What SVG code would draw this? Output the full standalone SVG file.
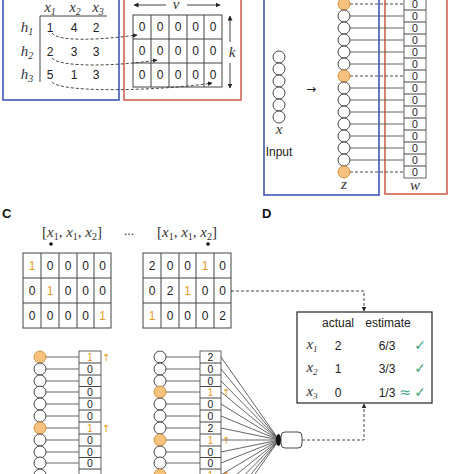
<svg xmlns="http://www.w3.org/2000/svg" width="474" height="474" viewBox="0 0 474 474">
<defs>
<style>
.num{font-family:"Liberation Sans",Arial,sans-serif;font-size:12px;fill:#222;text-anchor:middle}
.cn{font-family:"Liberation Sans",Arial,sans-serif;font-size:10.5px;fill:#222;text-anchor:middle}
.org{fill:#e89a22}
.math{font-family:"Liberation Serif","Times New Roman",serif;font-style:italic;font-size:15px;fill:#333;text-anchor:middle}
.rm{font-family:"Liberation Serif","Times New Roman",serif;font-size:15px;fill:#333}
.lbl{font-family:"Liberation Sans",Arial,sans-serif;font-weight:bold;font-size:13px;fill:#111}
.grid{fill:#fff;stroke:#444;stroke-width:1}
.gl{stroke:#444;stroke-width:1}
.cell{fill:#fff;stroke:#555;stroke-width:0.9}
.node{fill:#fff;stroke:#333;stroke-width:0.9}
.on{fill:#f7c27c;stroke:#c88a3a;stroke-width:0.9}
.wire{stroke:#555;stroke-width:0.9;fill:none}
.dash{stroke:#333;stroke-width:0.9;fill:none;stroke-dasharray:3,2}
.blue{fill:none;stroke:#3f58b5;stroke-width:1.6}
.red{fill:none;stroke:#d4634f;stroke-width:1.6}
.chk{font-family:"DejaVu Sans",sans-serif;font-size:14px;fill:#3fa385;text-anchor:middle}
.up{font-family:"DejaVu Sans",sans-serif;font-size:10px;fill:#e89a22;text-anchor:middle}
</style>
<marker id="ah" viewBox="0 0 10 10" refX="9" refY="5" markerWidth="5" markerHeight="5" orient="auto-start-reverse"><path d="M0,0 L10,5 L0,10 z" fill="#222"/></marker>
</defs>

<!-- Panel A -->
<g id="panelA-box">
<rect class="blue" x="3" y="-10" width="116" height="110"/>
<rect class="red" x="124" y="-10" width="117" height="110"/>
</g>
<g id="tableA">
<text class="math" x="50" y="12">x<tspan font-size="10" dy="3">1</tspan></text>
<text class="math" x="75" y="12">x<tspan font-size="10" dy="3">2</tspan></text>
<text class="math" x="98" y="12">x<tspan font-size="10" dy="3">3</tspan></text>
<text class="math" x="27" y="32">h<tspan font-size="10" dy="3">1</tspan></text>
<text class="math" x="27" y="56">h<tspan font-size="10" dy="3">2</tspan></text>
<text class="math" x="27" y="79">h<tspan font-size="10" dy="3">3</tspan></text>
<path class="gl" d="M40,82 V16 H107" fill="none"/>
<text class="num" x="50" y="32">1</text><text class="num" x="74" y="32">4</text><text class="num" x="96" y="32">2</text>
<text class="num" x="50" y="56">2</text><text class="num" x="74" y="56">3</text><text class="num" x="96" y="56">3</text>
<text class="num" x="50" y="79">5</text><text class="num" x="74" y="79">1</text><text class="num" x="96" y="79">3</text>
</g>
<g id="gridA">
<rect class="grid" x="133" y="15" width="89" height="72"/>
<path class="gl" d="M133,39 H222 M133,63 H222 M151,15 V87 M169,15 V87 M187,15 V87 M204,15 V87"/>
<text class="num" x="142" y="31">0</text><text class="num" x="160" y="31">0</text><text class="num" x="178" y="31">0</text><text class="num" x="195.5" y="31">0</text><text class="num" x="213" y="31">0</text>
<text class="num" x="142" y="55">0</text><text class="num" x="160" y="55">0</text><text class="num" x="178" y="55">0</text><text class="num" x="195.5" y="55">0</text><text class="num" x="213" y="55">0</text>
<text class="num" x="142" y="79">0</text><text class="num" x="160" y="79">0</text><text class="num" x="178" y="79">0</text><text class="num" x="195.5" y="79">0</text><text class="num" x="213" y="79">0</text>
<text class="math" x="176" y="9">v</text>
<text class="math" x="232" y="57">k</text>
<line class="gl" x1="166" y1="5" x2="134" y2="5" marker-end="url(#ah)"/>
<line class="gl" x1="187" y1="5" x2="220" y2="5" marker-end="url(#ah)"/>
<line class="gl" x1="230" y1="42" x2="230" y2="16" marker-end="url(#ah)"/>
<line class="gl" x1="230" y1="63" x2="230" y2="88" marker-end="url(#ah)"/>
</g>
<g id="connectors-A">
<path class="dash" d="M52,33 C58,42 100,40 137,35" marker-end="url(#ah)"/>
<path class="dash" d="M52,58 C60,68 120,66 157,60" marker-end="url(#ah)"/>
<path class="dash" d="M52,82 C62,94 170,90 212,83" marker-end="url(#ah)"/>
</g>

<!-- Panel B -->
<g id="panelB-box">
<rect class="blue" x="264" y="-10" width="115" height="205"/>
<rect class="red" x="385" y="-10" width="62" height="204"/>
</g>
<g id="input">
<circle class="node" cx="279" cy="57" r="6"/>
<circle class="node" cx="279" cy="69" r="6"/>
<circle class="node" cx="279" cy="81" r="6"/>
<circle class="node" cx="279" cy="93" r="6"/>
<circle class="node" cx="279" cy="105" r="6"/>
<circle class="node" cx="279" cy="117" r="6"/>
<text class="math" x="279" y="134">x</text>
<text class="num" x="279" y="156">Input</text>
<text x="311" y="93" font-family="DejaVu Sans,sans-serif" font-size="12" text-anchor="middle" fill="#222">→</text>
</g>
<g id="connectors-B">
<line class="dash" x1="350" y1="4" x2="404" y2="4"/>
<line class="wire" x1="350" y1="16" x2="404" y2="16"/>
<line class="wire" x1="350" y1="28" x2="404" y2="28"/>
<line class="wire" x1="350" y1="40" x2="404" y2="40"/>
<line class="wire" x1="350" y1="52" x2="404" y2="52"/>
<line class="wire" x1="350" y1="64" x2="404" y2="64"/>
<line class="dash" x1="350" y1="76" x2="404" y2="76"/>
<line class="wire" x1="350" y1="88" x2="404" y2="88"/>
<line class="wire" x1="350" y1="100" x2="404" y2="100"/>
<line class="wire" x1="350" y1="112" x2="404" y2="112"/>
<line class="wire" x1="350" y1="124" x2="404" y2="124"/>
<line class="wire" x1="350" y1="136" x2="404" y2="136"/>
<line class="wire" x1="350" y1="148" x2="404" y2="148"/>
<line class="wire" x1="350" y1="160" x2="404" y2="160"/>
<line class="dash" x1="350" y1="172" x2="404" y2="172"/>
</g>
<g id="z">
<circle class="on" cx="344" cy="4" r="6"/>
<circle class="node" cx="344" cy="16" r="6"/>
<circle class="node" cx="344" cy="28" r="6"/>
<circle class="node" cx="344" cy="40" r="6"/>
<circle class="node" cx="344" cy="52" r="6"/>
<circle class="node" cx="344" cy="64" r="6"/>
<circle class="on" cx="344" cy="76" r="6"/>
<circle class="node" cx="344" cy="88" r="6"/>
<circle class="node" cx="344" cy="100" r="6"/>
<circle class="node" cx="344" cy="112" r="6"/>
<circle class="node" cx="344" cy="124" r="6"/>
<circle class="node" cx="344" cy="136" r="6"/>
<circle class="node" cx="344" cy="148" r="6"/>
<circle class="node" cx="344" cy="160" r="6"/>
<circle class="on" cx="344" cy="172" r="6"/>
<text class="math" x="344" y="189">z</text>
</g>
<g id="w">
<rect class="cell" x="404" y="-2" width="22" height="180"/>
<path class="gl" d="M404,10 H426 M404,22 H426 M404,34 H426 M404,46 H426 M404,58 H426 M404,70 H426 M404,82 H426 M404,94 H426 M404,106 H426 M404,118 H426 M404,130 H426 M404,142 H426 M404,154 H426 M404,166 H426"/>
<text class="cn" x="415" y="8">0</text><text class="cn" x="415" y="20">0</text><text class="cn" x="415" y="32">0</text><text class="cn" x="415" y="44">0</text><text class="cn" x="415" y="56">0</text><text class="cn" x="415" y="68">0</text><text class="cn" x="415" y="80">0</text><text class="cn" x="415" y="92">0</text><text class="cn" x="415" y="104">0</text><text class="cn" x="415" y="116">0</text><text class="cn" x="415" y="128">0</text><text class="cn" x="415" y="140">0</text><text class="cn" x="415" y="152">0</text><text class="cn" x="415" y="164">0</text><text class="cn" x="415" y="176">0</text>
<text class="math" x="415" y="190">w</text>
</g>

<!-- Panel C -->
<text class="lbl" x="2" y="218">C</text>
<text class="lbl" x="262" y="218">D</text>
<g id="seq1">
<text class="rm" x="42" y="237">[<tspan font-style="italic">x</tspan><tspan font-size="10" dy="3">1</tspan><tspan dy="-3">, </tspan><tspan font-style="italic">x</tspan><tspan font-size="10" dy="3">1</tspan><tspan dy="-3">, </tspan><tspan font-style="italic">x</tspan><tspan font-size="10" dy="3">2</tspan><tspan dy="-3">]</tspan></text>
<circle cx="51" cy="244" r="1.8" fill="#111"/>
<text class="num" x="129" y="235">...</text>
<text class="rm" x="157" y="237">[<tspan font-style="italic">x</tspan><tspan font-size="10" dy="3">1</tspan><tspan dy="-3">, </tspan><tspan font-style="italic">x</tspan><tspan font-size="10" dy="3">1</tspan><tspan dy="-3">, </tspan><tspan font-style="italic">x</tspan><tspan font-size="10" dy="3">2</tspan><tspan dy="-3">]</tspan></text>
<circle cx="208" cy="244" r="1.8" fill="#111"/>
</g>
<g id="gridC1">
<rect class="grid" x="23" y="253" width="88" height="75"/>
<path class="gl" d="M23,278 H111 M23,303 H111 M41,253 V328 M59,253 V328 M77,253 V328 M94,253 V328"/>
<text class="num org" x="32" y="270">1</text><text class="num" x="50" y="270">0</text><text class="num" x="68" y="270">0</text><text class="num" x="85.5" y="270">0</text><text class="num" x="102.5" y="270">0</text>
<text class="num" x="32" y="295">0</text><text class="num org" x="50" y="295">1</text><text class="num" x="68" y="295">0</text><text class="num" x="85.5" y="295">0</text><text class="num" x="102.5" y="295">0</text>
<text class="num" x="32" y="320">0</text><text class="num" x="50" y="320">0</text><text class="num" x="68" y="320">0</text><text class="num" x="85.5" y="320">0</text><text class="num org" x="102.5" y="320">1</text>
</g>
<g id="gridC2">
<rect class="grid" x="143" y="253" width="88" height="75"/>
<path class="gl" d="M143,278 H231 M143,303 H231 M161,253 V328 M179,253 V328 M196,253 V328 M214,253 V328"/>
<text class="num" x="152" y="270">2</text><text class="num" x="170" y="270">0</text><text class="num" x="187.5" y="270">0</text><text class="num org" x="205" y="270">1</text><text class="num" x="222.5" y="270">0</text>
<text class="num" x="152" y="295">0</text><text class="num" x="170" y="295">2</text><text class="num org" x="187.5" y="295">1</text><text class="num" x="205" y="295">0</text><text class="num" x="222.5" y="295">0</text>
<text class="num org" x="152" y="320">1</text><text class="num" x="170" y="320">0</text><text class="num" x="187.5" y="320">0</text><text class="num" x="205" y="320">0</text><text class="num" x="222.5" y="320">2</text>
</g>

<!-- bottom column 1 -->
<g id="col1">
<g class="wire">
<line x1="46" y1="357" x2="79" y2="357"/><line x1="46" y1="369" x2="79" y2="369"/><line x1="46" y1="381" x2="79" y2="381"/><line x1="46" y1="392" x2="79" y2="392"/><line x1="46" y1="404" x2="79" y2="404"/><line x1="46" y1="416" x2="79" y2="416"/><line x1="46" y1="428" x2="79" y2="428"/><line x1="46" y1="440" x2="79" y2="440"/><line x1="46" y1="452" x2="79" y2="452"/><line x1="46" y1="463" x2="79" y2="463"/><line x1="46" y1="475" x2="79" y2="475"/>
</g>
<circle class="on" cx="40" cy="357" r="6"/>
<circle class="node" cx="40" cy="369" r="6"/>
<circle class="node" cx="40" cy="381" r="6"/>
<circle class="node" cx="40" cy="392" r="6"/>
<circle class="node" cx="40" cy="404" r="6"/>
<circle class="node" cx="40" cy="416" r="6"/>
<circle class="on" cx="40" cy="428" r="6"/>
<circle class="node" cx="40" cy="440" r="6"/>
<circle class="node" cx="40" cy="452" r="6"/>
<circle class="node" cx="40" cy="463" r="6"/>
<circle class="node" cx="40" cy="475" r="6"/>
<rect class="cell" x="79" y="351" width="22" height="130"/>
<path class="gl" d="M79,363 H101 M79,375 H101 M79,386.5 H101 M79,398 H101 M79,410 H101 M79,422 H101 M79,434 H101 M79,446 H101 M79,457.5 H101 M79,469 H101"/>
<text class="cn org" x="90" y="361">1</text><text class="cn" x="90" y="373">0</text><text class="cn" x="90" y="385">0</text><text class="cn" x="90" y="396">0</text><text class="cn" x="90" y="408">0</text><text class="cn" x="90" y="420">0</text><text class="cn org" x="90" y="432">1</text><text class="cn" x="90" y="444">0</text><text class="cn" x="90" y="456">0</text><text class="cn" x="90" y="467">0</text>
<text class="up" x="106" y="361">↑</text>
<text class="up" x="106" y="432">↑</text>
</g>

<!-- bottom column 2 -->
<g id="col2">
<g class="wire">
<line x1="166" y1="357" x2="200" y2="357"/><line x1="166" y1="369" x2="200" y2="369"/><line x1="166" y1="381" x2="200" y2="381"/><line x1="166" y1="392" x2="200" y2="392"/><line x1="166" y1="404" x2="200" y2="404"/><line x1="166" y1="416" x2="200" y2="416"/><line x1="166" y1="428" x2="200" y2="428"/><line x1="166" y1="440" x2="200" y2="440"/><line x1="166" y1="452" x2="200" y2="452"/><line x1="166" y1="463" x2="200" y2="463"/><line x1="166" y1="475" x2="200" y2="475"/>
</g>
<circle class="node" cx="160" cy="357" r="6"/>
<circle class="node" cx="160" cy="369" r="6"/>
<circle class="node" cx="160" cy="381" r="6"/>
<circle class="on" cx="160" cy="392" r="6"/>
<circle class="node" cx="160" cy="404" r="6"/>
<circle class="node" cx="160" cy="416" r="6"/>
<circle class="node" cx="160" cy="428" r="6"/>
<circle class="on" cx="160" cy="440" r="6"/>
<circle class="node" cx="160" cy="452" r="6"/>
<circle class="node" cx="160" cy="463" r="6"/>
<circle class="on" cx="160" cy="475" r="6"/>
<rect class="cell" x="200" y="351" width="21" height="130"/>
<path class="gl" d="M200,363 H221 M200,375 H221 M200,386.5 H221 M200,398 H221 M200,410 H221 M200,422 H221 M200,434 H221 M200,446 H221 M200,457.5 H221 M200,469 H221"/>
<text class="cn" x="210.5" y="361">2</text><text class="cn" x="210.5" y="373">0</text><text class="cn" x="210.5" y="385">0</text><text class="cn org" x="210.5" y="396">1</text><text class="cn" x="210.5" y="408">0</text><text class="cn" x="210.5" y="420">0</text><text class="cn" x="210.5" y="432">2</text><text class="cn org" x="210.5" y="444">1</text><text class="cn" x="210.5" y="456">0</text><text class="cn" x="210.5" y="467">0</text><text class="cn org" x="210.5" y="479">1</text>
<text class="up" x="226" y="396">↑</text>
<text class="up" x="226" y="444">↑</text>
<text class="up" x="226" y="479">↑</text>
</g>

<g id="connectors-C">
<g class="wire">
<line x1="221" y1="357" x2="279" y2="440"/><line x1="221" y1="369" x2="279" y2="440"/><line x1="221" y1="381" x2="279" y2="440"/><line x1="221" y1="392" x2="279" y2="440"/><line x1="221" y1="404" x2="279" y2="440"/><line x1="221" y1="416" x2="279" y2="440"/><line x1="221" y1="428" x2="279" y2="440"/><line x1="221" y1="440" x2="279" y2="440"/><line x1="221" y1="452" x2="279" y2="440"/><line x1="221" y1="463" x2="279" y2="440"/><line x1="221" y1="475" x2="279" y2="440"/><line x1="221" y1="487" x2="279" y2="440"/><line x1="221" y1="499" x2="279" y2="440"/><line x1="221" y1="511" x2="279" y2="440"/><line x1="221" y1="522" x2="279" y2="440"/>
</g>
<path class="dash" d="M231,291 H364 V311" marker-end="url(#ah)"/>
<path class="dash" d="M302,440 H364 V404" marker-end="url(#ah)"/>
</g>

<g id="readout">
<ellipse cx="278.5" cy="440" rx="2.5" ry="6" fill="#111"/>
<rect x="281" y="432" width="21" height="16" rx="4" fill="#fff" stroke="#333" stroke-width="0.9"/>
</g>

<!-- Panel D -->
<g id="tableD">
<rect x="297" y="312" width="135" height="91" fill="#fff" stroke="#222" stroke-width="1.2"/>
<text class="num" x="338" y="327">actual</text>
<text class="num" x="388" y="327">estimate</text>
<text class="math" x="312" y="349" font-size="14">x<tspan font-size="9" dy="3">1</tspan></text>
<text class="math" x="312" y="372" font-size="14">x<tspan font-size="9" dy="3">2</tspan></text>
<text class="math" x="312" y="396" font-size="14">x<tspan font-size="9" dy="3">3</tspan></text>
<text class="num" x="338" y="350">2</text>
<text class="num" x="338" y="373">1</text>
<text class="num" x="338" y="397">0</text>
<text class="num" x="387" y="350">6/3</text>
<text class="num" x="387" y="373">3/3</text>
<text class="num" x="387" y="397">1/3</text>
<text class="chk" x="405" y="397">≈</text>
<text class="chk" x="420" y="350">✓</text>
<text class="chk" x="420" y="373">✓</text>
<text class="chk" x="420" y="397">✓</text>
</g>
</svg>
